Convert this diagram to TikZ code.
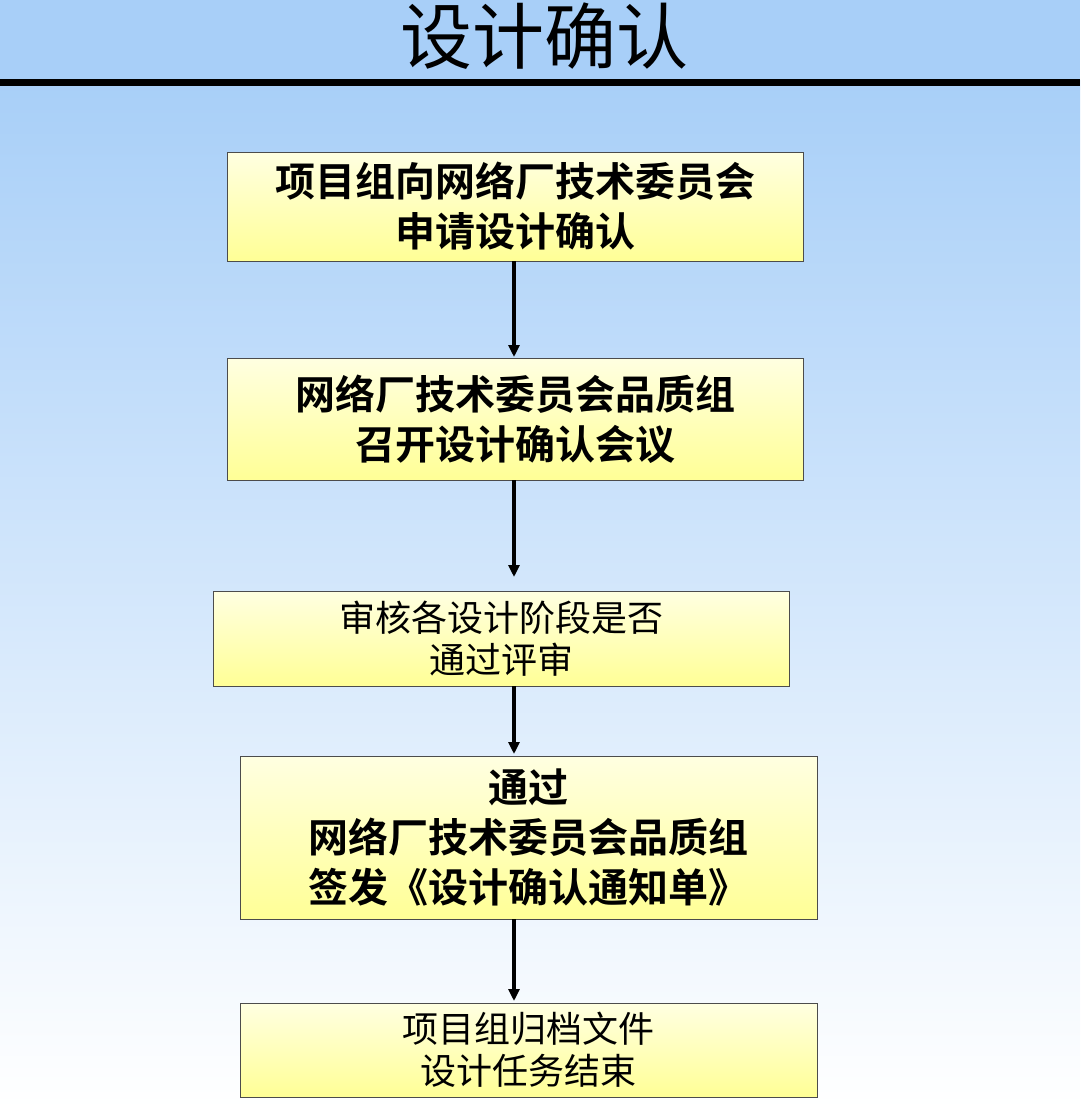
\documentclass[tikz,border=0pt]{standalone}
\usepackage{fontspec}
\newfontfamily\cjk{Noto Sans CJK SC}
\newfontfamily\cjkb{Noto Sans CJK SC Bold}
\usetikzlibrary{arrows.meta}
\definecolor{bgtop}{RGB}{168,207,248}
\definecolor{ytop}{RGB}{255,255,225}
\definecolor{ybot}{RGB}{255,255,150}
\tikzset{
  box/.style={draw=black!70,line width=0.8pt,top color=ytop,bottom color=ybot,align=center,inner sep=0pt},
  bigt/.style={font=\cjkb\fontsize{40}{50}\selectfont},
  smallt/.style={font=\cjk\fontsize{36}{42}\selectfont},
  arr/.style={-{Triangle[length=12pt,width=11pt]},line width=3.2pt}
}
\begin{document}
\begin{tikzpicture}[x=1pt,y=-1pt]
\useasboundingbox (0,0) rectangle (1080,1109);
\shade[top color=bgtop,bottom color=white] (0,80) rectangle (1080,1109);
\fill[bgtop] (0,0) rectangle (1080,80);
\fill[black] (0,79) rectangle (1080,86);
\node[font=\cjk\fontsize{72}{76}\selectfont] (title) at (544,36) {设计确认};
\node[box,bigt,minimum width=576pt,minimum height=109pt] (b1) at (515,206.5) {项目组向网络厂技术委员会\\申请设计确认};
\node[box,bigt,minimum width=576pt,minimum height=122pt] (b2) at (515,419) {网络厂技术委员会品质组\\召开设计确认会议};
\node[box,smallt,minimum width=576pt,minimum height=95pt] (b3) at (501,638.5) {审核各设计阶段是否\\通过评审};
\node[box,bigt,minimum width=577pt,minimum height=163pt] (b4) at (528.5,837.5) {通过\\网络厂技术委员会品质组\\签发《设计确认通知单》};
\node[box,smallt,minimum width=577pt,minimum height=94pt] (b5) at (528.5,1050) {项目组归档文件\\设计任务结束};
\coordinate (a2) at (514,357);
\coordinate (a3) at (514,577);
\coordinate (a4) at (514,754);
\coordinate (a5) at (514,1001);
\draw[arr] (b1.south -| a2) -- (a2);
\draw[arr] (b2.south -| a3) -- (a3);
\draw[arr] (b3.south -| a4) -- (a4);
\draw[arr] (b4.south -| a5) -- (a5);
\end{tikzpicture}
\end{document}
